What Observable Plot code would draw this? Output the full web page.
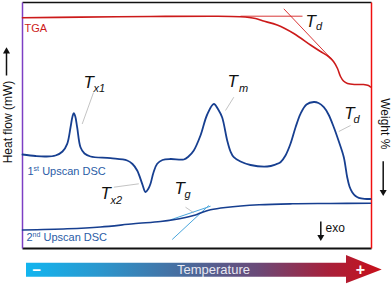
<!DOCTYPE html>
<html><head><meta charset="utf-8">
<script src="https://cdn.jsdelivr.net/npm/d3@7"></script>
<script src="https://cdn.jsdelivr.net/npm/@observablehq/plot@0.6"></script>
<style>body{margin:0;background:#fff;overflow:hidden} #chart svg{display:block}</style>
</head><body><div id="chart"></div>
<script>
// Schematic, arbitrary units: temperature (x) 0..349, signal (y) 0..246
const tgaT = [0,58,128,188,218,233,240,254.7,271.3,288,298,306,311,315,318,321,325,333,341,346,348];
const tgaW = [230.7,231.4,232,232.3,231.8,230,227.7,223.5,215,203.5,197,192,187,180,172,167.5,165,164,164,163,161.5];

const dsc1T = [0,13,23,33,40,44.7,48,50,51.3,52.8,54.7,58,62,68,88,104.7,110,114.7,119.7,123,126,128,131,134.7,140,148,161.3,166,171.3,178,184.7,191.3,196.3,199.7,204.7,208,211.3,218,228,244.7,253,258,263,268,273,278,284,291.3,296,301.3,306,311.3,316,321.3,324.7,327,329.7,333,336.3,342,348];
const dsc1H = [94,92.5,92,93,97,104.7,121,132,135.3,132,121,101.3,95,92,90.3,88,84.5,78,64.7,56.5,60,64.7,76,84.7,88.5,89.5,89,92,98,113,134,144.5,138,131,108,97,91.3,87,83.5,82,84,86.3,93,104.7,121,134.7,144,146.5,145.5,141.3,134,121.3,108,91.3,71.3,62,56.3,52.5,50.7,49.7,49.5];

const dsc2T = [0,44.7,78,111,138,151,163,171,175,180,188,203,236.7,270,308,348];
const dsc2H = [18.5,19.7,21.5,24.7,27,28.7,31,33,34.3,36.3,38.7,41,43.7,44.7,45,45.3];

// frame edges
const frameEdges = [
  {x1:0, y1:246, x2:349, y2:246, c:"#111", w:1.5},
  {x1:0, y1:0, x2:349, y2:0, c:"#111", w:2},
  {x1:0, y1:0, x2:0, y2:246, c:"#7d3fc4", w:1.5},
  {x1:349, y1:0, x2:349, y2:246, c:"#f01010", w:1.5}
];
// tangent constructions
const tgTangents = [
  {x1:148, y1:28.7, x2:188, y2:42.3},
  {x1:149.7, y1:9, x2:186.3, y2:43}
];
const tdTangents = [
  {x1:218, y1:232.3, x2:280, y2:232.3},
  {x1:261.3, y1:239.7, x2:309.7, y2:188.7}
];
// leader lines from labels to curve features
const leaders = [
  {x1:71, y1:156, x2:59.7, y2:124.5},
  {x1:91.3, y1:61.3, x2:116.3, y2:64.7},
  {x1:163, y1:41.3, x2:171.3, y2:35.7},
  {x1:211.3, y1:151.3, x2:203, y2:138},
  {x1:328, y1:123, x2:316.3, y2:117}
];
// arrow shafts
const shafts = [
  {x1:298.3, y1:27, x2:298.3, y2:11},
  {x1:-16, y1:173, x2:-16, y2:196},
  {x1:360.7, y1:87.3, x2:360.7, y2:57}
];
const headsDown = [{x:298.3, y:8}, {x:360.7, y:53}];
const headsUp = [{x:-16, y:200.7}];
// transition labels: main letter + subscript
const labelMain = [
  {x:61, y:161, s:"T"}, {x:205, y:161.3, s:"T"}, {x:283, y:222, s:"T"},
  {x:321.7, y:129.7, s:"T"}, {x:78, y:49.7, s:"T"}, {x:152, y:54.7, s:"T"}
];
const labelSub = [
  {x:71, y:157, s:"x1"}, {x:216.5, y:157, s:"m"}, {x:293.5, y:218.5, s:"d"},
  {x:331, y:126, s:"d"}, {x:88, y:45, s:"x2"}, {x:162, y:50.5, s:"g"}
];
// temperature arrow outline (below frame)
const arrowShape = [
  {x:4, y1:-28.7, y2:-14.7}, {x:324, y1:-28.7, y2:-14.7},
  {x:324, y1:-35.3, y2:-7}, {x:359.7, y1:-21.5, y2:-21.5}
];

const tga = tgaT.map((t,i)=>({t, v:tgaW[i]}));
const dsc1 = dsc1T.map((t,i)=>({t, v:dsc1H[i]}));
const dsc2 = dsc2T.map((t,i)=>({t, v:dsc2H[i]}));

const FONT = "'Liberation Sans', Arial, Helvetica, sans-serif";
const blue = "#173f90";
const labelBlue = "#2a5ca6";

function txt(x, y, s, opts) {
  return Plot.text([{x, y, s}], {x:"x", y:"y", text:"s", ...opts});
}
const L = (o) => Plot.link(o.data, {x1:d=>d.x1, y1:d=>d.y1, x2:d=>d.x2, y2:d=>d.y2, ...o.opts});

const plot = Plot.plot({
  width: 392, height: 286,
  marginLeft: 22, marginRight: 21, marginTop: 2, marginBottom: 38,
  x: {domain: [0, 349], axis: null},
  y: {domain: [0, 246], axis: null},
  style: {fontFamily: FONT, background: "#fff"},
  marks: [
    ...frameEdges.map(e => L({data:[e], opts:{stroke:e.c, strokeWidth:e.w}})),
    L({data: tdTangents, opts:{stroke: "#d42020", strokeWidth: 0.9}}),
    L({data: tgTangents, opts:{stroke: "#4aa6dc", strokeWidth: 1}}),
    L({data: leaders, opts:{stroke: "#b4b4b4", strokeWidth: 0.8}}),
    Plot.line(tga, {x: "t", y: "v", stroke: "#cc1a1a", strokeWidth: 1.6, curve: "catmull-rom"}),
    Plot.line(dsc1, {x: "t", y: "v", stroke: blue, strokeWidth: 1.8, curve: "catmull-rom"}),
    Plot.line(dsc2, {x: "t", y: "v", stroke: blue, strokeWidth: 1.6, curve: "catmull-rom"}),
    Plot.text(labelMain, {x:"x", y:"y", text:"s", textAnchor:"start", lineAnchor:"bottom", fontSize: 17, fontStyle: "italic", fill: "#111"}),
    Plot.text(labelSub, {x:"x", y:"y", text:"s", textAnchor:"start", lineAnchor:"bottom", fontSize: 11, fontStyle: "italic", fill: "#111"}),
    txt(2, 216.3, "TGA", {textAnchor:"start", lineAnchor:"bottom", fontSize: 11, fill: "#cc1a1a"}),
    txt(5, 74, "1", {textAnchor:"start", lineAnchor:"bottom", fontSize: 11, fill: labelBlue}),
    txt(11.1, 78, "st", {textAnchor:"start", lineAnchor:"bottom", fontSize: 7, fill: labelBlue}),
    txt(16.6, 74, " Upscan DSC", {textAnchor:"start", lineAnchor:"bottom", fontSize: 11, fill: labelBlue}),
    txt(4, 8, "2", {textAnchor:"start", lineAnchor:"bottom", fontSize: 11, fill: labelBlue}),
    txt(10.1, 12, "nd", {textAnchor:"start", lineAnchor:"bottom", fontSize: 7, fill: labelBlue}),
    txt(17.9, 8, " Upscan DSC", {textAnchor:"start", lineAnchor:"bottom", fontSize: 11, fill: labelBlue}),
    L({data: shafts, opts:{stroke:"#111", strokeWidth:1.5}}),
    Plot.dot(headsDown, {x:"x", y:"y", symbol:"triangle", r:2.6, rotate:180, fill:"#111", dy:-3.6}),
    Plot.dot(headsUp, {x:"x", y:"y", symbol:"triangle", r:2.6, fill:"#111", dy:3.6}),
    txt(303, 16.3, "exo", {textAnchor:"start", lineAnchor:"bottom", fontSize: 12, fill:"#111"}),
    txt(-14.5, 126.5, "Heat flow (mW)", {rotate:-90, textAnchor:"middle", lineAnchor:"middle", fontSize: 12, fill:"#111"}),
    txt(362, 124.7, "Weight %", {rotate:90, textAnchor:"middle", lineAnchor:"middle", fontSize: 12, fill:"#111"}),
    Plot.areaY(arrowShape, {x:"x", y1:"y1", y2:"y2", fill:"url(#tempGrad)", curve:"linear"}),
    txt(191, -25.3, "Temperature", {textAnchor:"middle", lineAnchor:"bottom", fontSize: 13, fill:"#e8e8f2"}),
    txt(14, -21.5, "−", {textAnchor:"middle", lineAnchor:"middle", fontSize: 15, fontWeight:"bold", fill:"#fff"}),
    txt(338, -21.5, "+", {textAnchor:"middle", lineAnchor:"middle", fontSize: 16, fontWeight:"bold", fill:"#fff"})
  ]
});

const defs = d3.select(plot).insert("defs", ":first-child");
const grad = defs.append("linearGradient").attr("id", "tempGrad").attr("x1", "0%").attr("x2", "100%").attr("y1", "0%").attr("y2", "0%");
[[0,"#12b5ef"],[0.2,"#2a98cf"],[0.45,"#4a6a9c"],[0.65,"#6a4a78"],[0.85,"#a8203a"],[1,"#c8101a"]].forEach(([o,c]) =>
  grad.append("stop").attr("offset", o).attr("stop-color", c));

document.getElementById("chart").appendChild(plot);
</script></body></html>
